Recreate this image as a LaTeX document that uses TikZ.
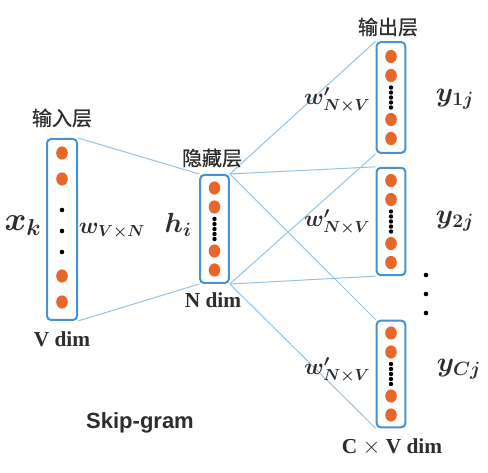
\documentclass[tikz,border=0pt]{standalone}
\usepackage{fontspec}
\usepackage{amsmath,bm}
\usetikzlibrary{calc}
\newfontfamily\cjk[FakeBold=0.8]{Noto Sans CJK SC}
\newfontfamily\dimfont{Liberation Serif}
\newfontfamily\titlefont{Liberation Sans}
\definecolor{boxblue}{RGB}{72,146,206}
\definecolor{linkblue}{RGB}{150,195,225}
\definecolor{dotorange}{RGB}{232,102,40}
\definecolor{labelgray}{RGB}{45,45,45}

\begin{document}
\begin{tikzpicture}[x=0.75pt,y=-0.75pt,
    layer/.style={draw=boxblue,line width=1.5pt,rounded corners=3pt,inner sep=0pt,minimum width=21.5pt},
    link/.style={draw=linkblue,line width=0.75pt},
    cjklabel/.style={font=\cjk\fontsize{15}{18}\selectfont,text=labelgray},
    dimlabel/.style={font=\dimfont\bfseries\fontsize{16}{19}\selectfont,text=labelgray},
    mathlabel/.style={font=\fontsize{17}{20}\selectfont,text=labelgray}]
    \useasboundingbox (0,0) rectangle (488,473);
    % layers
    \node[layer,minimum width=22.5pt,minimum height=135.75pt] (in) at (62,229.5) {};
    \node[layer,minimum height=81pt] (hid) at (214.5,229) {};
    \node[layer,minimum height=83pt] (out1) at (391,97.5) {};
    \node[layer,minimum height=80.5pt] (out2) at (391,221.5) {};
    \node[layer,minimum height=80pt] (out3) at (391,374) {};
    % connections
    \draw[link] (in.north east) -- (hid.north west);
    \draw[link] (in.south east) -- (hid.south west);
    \foreach \o in {out1,out2,out3}
    {
        \draw[link] (hid.north east) -- (\o.north west);
        \draw[link] (hid.south east) -- (\o.south west);
    }
    % units
    \foreach \y in {153,179,276,302}
        \fill[dotorange] (62,\y) ellipse (5.8 and 6.6);
    \foreach \y in {210,231,252}
        \fill[black] (62,\y) circle (2.3);
    \foreach \cx/\cy in {214.5/229,391/97.5,391/221.5,391/374}
    {
        \foreach \dy in {-41,-22,22,41}
            \fill[dotorange] (\cx,\cy+\dy) ellipse (5.8 and 6.6);
        \foreach \dy in {-10,-5,...,10}
            \fill[black] (\cx,\cy+\dy) circle (2.2);
    }
    \foreach \y in {275,294,313}
        \fill[black] (426,\y) circle (2.3);
    % labels
    \node[cjklabel] (inname) at (62,118) {输入层};
    \node[cjklabel] (hidname) at (212,158) {隐藏层};
    \node[cjklabel] (outname) at (388,27) {输出层};
    \node[dimlabel] (vdim) at (62,339) {V dim};
    \node[dimlabel] (ndim) at (213,300) {N dim};
    \node[dimlabel] (cvdim) at (392,447) {C $\times$ V dim};
    \node[mathlabel,font=\fontsize{23}{26}\selectfont] (xk) at (23,226) {$\bm{x_k}$};
    \node[mathlabel] (win) at (112,231) {$\bm{w_{V\times N}}$};
    \node[mathlabel,font=\fontsize{20}{23}\selectfont] (hi) at (178,225) {$\bm{h_i}$};
    \foreach \n/\y in {1/100,2/222,3/370}
        \node[mathlabel,anchor=east] (wout\n) at (375,\y) {$\bm{w'_{N\times V}}$};
    \node[mathlabel,font=\fontsize{20}{24}\selectfont] (y1) at (455,99) {$\bm{y_{1j}}$};
    \node[mathlabel,font=\fontsize{20}{24}\selectfont] (y2) at (455,221) {$\bm{y_{2j}}$};
    \node[mathlabel,font=\fontsize{20}{24}\selectfont] (yc) at (459,369) {$\bm{y_{Cj}}$};
    \node[font=\titlefont\bfseries\fontsize{16.5}{20}\selectfont,text=labelgray] (title) at (140,423) {Skip-gram};
\end{tikzpicture}
\end{document}
